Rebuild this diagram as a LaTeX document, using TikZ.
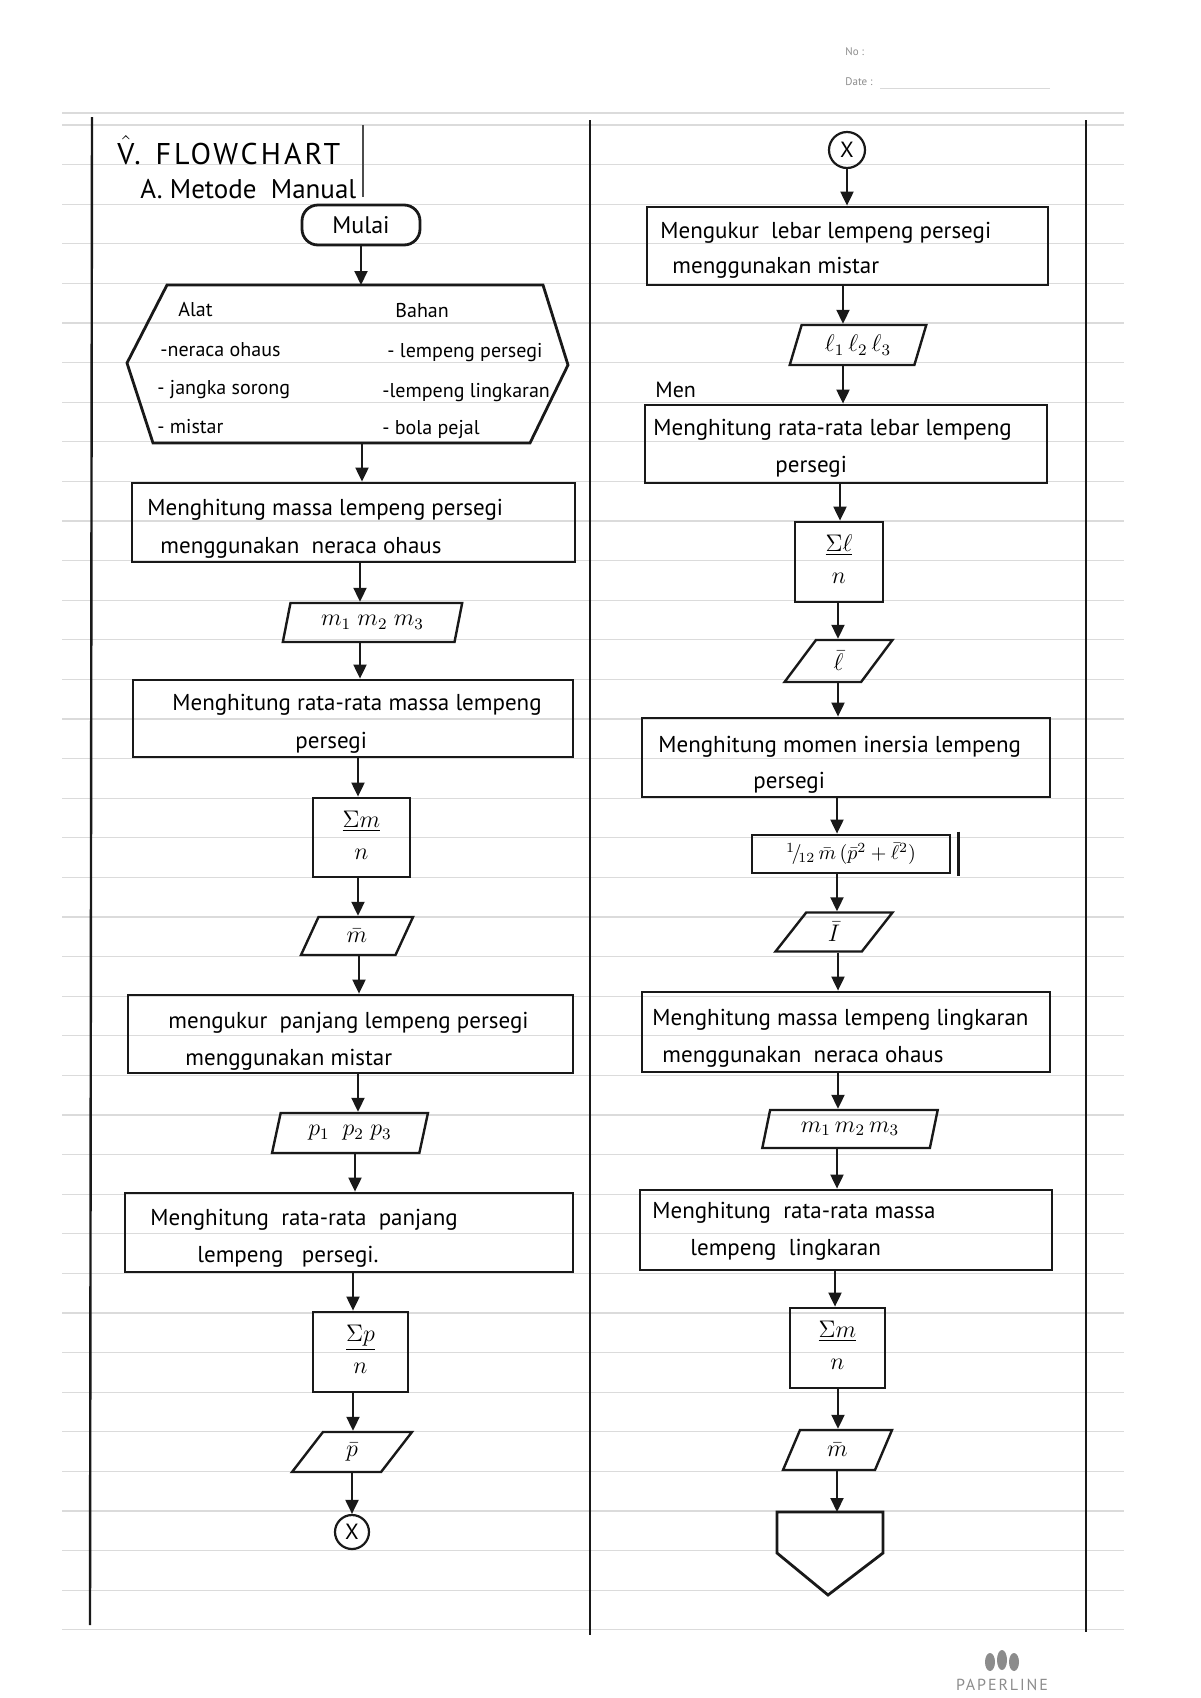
\documentclass[tikz,border=0pt]{standalone}
\usepackage{amsmath}
\usepackage{fontspec}
\setmainfont{PT Sans}
\usetikzlibrary{arrows.meta,shapes.geometric}
\newcommand\flowarr[3]{\coordinate (tmpx) at (#3,0);\draw[arr] (#1.south -| tmpx) -- (#2.north -| tmpx);}
\newcommand\fracbox[2]{\begin{tabular}{@{}c@{}}\underline{$#1$}\\[2pt] $#2$\end{tabular}}
\begin{document}
\begin{tikzpicture}[x=0.5pt,y=-0.5pt,
  ink/.style={draw=black!90, line width=1.4pt},
  rule/.style={draw=black!14, line width=0.6pt},
  border/.style={draw=black!90, line width=1.2pt},
  term/.style={ink, rounded corners=8pt, minimum width=59pt, minimum height=20pt, inner sep=0pt, font=\fontsize{12}{14}\selectfont},
  box/.style={ink, inner sep=0pt},
  frac/.style={ink, inner sep=0pt, font=\large},
  io/.style={ink, line width=1.2pt, trapezium, trapezium left angle=71, trapezium right angle=109, trapezium stretches=true, inner sep=0pt, font=\large},
  conn/.style={ink, line width=1.1pt, circle, inner sep=0pt, font=\fontsize{11}{12}\selectfont},
  arr/.style={draw=black!90, line width=1pt, -{Triangle[length=7pt,width=6.5pt]}},
  txt/.style={anchor=west, inner sep=0pt, font=\fontsize{11.5}{14}\selectfont},
  htxt/.style={anchor=west, inner sep=0pt, font=\fontsize{10}{12}\selectfont},
  faint/.style={inner sep=0pt, text=black!45}
]
\useasboundingbox (0,0) rectangle (1200,1698);
\fill[white] (0,0) rectangle (1200,1698);

% ruled paper
\draw[rule] (62,113) -- (1124,113);
\foreach \k in {0,...,38} \draw[rule] (62,{125+39.6*\k}) -- (1124,{125+39.6*\k});
\draw[border] (92,117) -- (90,1625);
\draw[border] (590,120) -- (590,1635);
\draw[border] (1086,120) -- (1086,1632);
\draw[draw=black!70, line width=0.8pt] (363,125) -- (363,197);

% header and footer of the paper
\node[faint, anchor=west, font=\fontsize{5.5}{6}\selectfont] (no) at (845,52) {No :};
\node[faint, anchor=west, font=\fontsize{5.5}{6}\selectfont] (date) at (845,82) {Date :};
\draw[draw=black!15, line width=0.5pt] (880,88) -- (1050,88);
\fill[black!45] (990,1662) ellipse (5 and 9);
\fill[black!45] (1002,1660) ellipse (5 and 10);
\fill[black!45] (1014,1662) ellipse (5 and 9);
\node[faint, font=\fontsize{8}{9}\selectfont\addfontfeatures{LetterSpace=12}] (paperline) at (1002,1685) {PAPERLINE};

% title
\node[anchor=west, inner sep=0pt, font=\fontsize{15}{17}\selectfont\addfontfeatures{LetterSpace=10}] (title) at (117,150) {$\hat{\text{V}}$. FLOWCHART};
\node[anchor=west, inner sep=0pt, font=\fontsize{13.5}{16}\selectfont] (sub) at (140,189) {A. Metode\ \ Manual};

% ===== left column =====
\node[term] (mulai) at (361,225) {Mulai};

\draw[ink] (167,285) -- (543,285) -- (568,365) -- (530,443) -- (153,443) -- (127,363) -- cycle;
\coordinate (hexT) at (361,285);
\coordinate (hexB) at (362,443);
\node[htxt] (alat) at (178,310) {Alat};
\node[htxt] (bahan) at (395,310) {Bahan};
\node[htxt] (a1) at (160,350) {-neraca ohaus};
\node[htxt] (a2) at (157,390) {- jangka sorong};
\node[htxt] (a3) at (157,427) {- mistar};
\node[htxt] (h1) at (387,353) {- lempeng persegi};
\node[htxt] (h2) at (382,393) {-lempeng lingkaran};
\node[htxt] (h3) at (382,430) {- bola pejal};

\node[box, minimum width=221.5pt, minimum height=39.5pt] (b1) at (353.5,522.5) {};
\node[txt] (t1a) at (147,510) {Menghitung\ massa lempeng\ persegi};
\node[txt] (t1b) at (160,548) {menggunakan\ \ neraca\ ohaus};

\node[io, minimum width=90pt, minimum height=19.5pt] (p1) at (372.5,622.5) {$m_1\ m_2\ m_3$};

\node[box, minimum width=220pt, minimum height=38.5pt] (b2) at (353,718.5) {};
\node[txt] (t2a) at (172,705) {Menghitung\ rata-rata\ massa lempeng};
\node[txt] (t2b) at (295,743) {persegi};

\node[frac, minimum width=48.5pt, minimum height=39.5pt] (f1) at (361.5,837.5) {\fracbox{\Sigma m}{n}};

\node[io, minimum width=56pt, minimum height=19pt] (p2) at (357,936) {$\bar{m}$};

\node[box, minimum width=222.5pt, minimum height=39pt] (b3) at (350.5,1034) {};
\node[txt] (t3a) at (168,1023) {mengukur\ \ panjang lempeng persegi};
\node[txt] (t3b) at (185,1060) {menggunakan mistar};

\node[io, minimum width=78pt, minimum height=20pt] (p3) at (350,1133) {$p_1\ \ p_2\ p_3$};

\node[box, minimum width=224pt, minimum height=39.5pt] (b4) at (349,1232.5) {};
\node[txt] (t4a) at (150,1220) {Menghitung\ \ rata-rata\ \ panjang};
\node[txt] (t4b) at (197,1257) {lempeng\ \ \ persegi.};

\node[frac, minimum width=47.5pt, minimum height=40pt] (f2) at (360.5,1352) {\fracbox{\Sigma p}{n}};

\node[io, minimum width=60pt, minimum height=20pt] (p4) at (352,1452) {$\bar{p}$};

\node[conn, minimum size=17pt] (cx1) at (352,1532) {X};

\draw[arr] (mulai.south) -- (mulai.south |- hexT);
\draw[arr] (hexB) -- (hexB |- b1.north);
\flowarr{b1}{p1}{360}
\flowarr{p1}{b2}{360}
\flowarr{b2}{f1}{358}
\flowarr{f1}{p2}{358}
\flowarr{p2}{b3}{359}
\flowarr{b3}{p3}{358}
\flowarr{p3}{b4}{355}
\flowarr{b4}{f2}{353}
\flowarr{f2}{p4}{353}
\flowarr{p4}{cx1}{352}

% ===== right column =====
\node[conn, minimum size=18pt] (cx2) at (847,150) {X};

\node[box, minimum width=200.5pt, minimum height=39pt] (b5) at (847.5,246) {};
\node[txt] (t5a) at (660,233) {Mengukur\ \ lebar lempeng\ persegi};
\node[txt] (t5b) at (672,268) {menggunakan mistar};

\node[io, minimum width=68.5pt, minimum height=20pt] (p5) at (858,345) {$\ell_1\,\ell_2\,\ell_3$};

\node[txt, font=\fontsize{11}{13}\selectfont] (men) at (655,390) {Men};

\node[box, minimum width=201pt, minimum height=39pt] (b6) at (846,444) {};
\node[txt] (t6a) at (653,430) {Menghitung\ rata-rata lebar lempeng};
\node[txt] (t6b) at (775,467) {persegi};

\node[frac, minimum width=44pt, minimum height=40pt] (f3) at (839,562) {\fracbox{\Sigma \ell}{n}};

\node[io, minimum width=54pt, minimum height=21pt] (p6) at (838.5,661) {$\bar{\ell}$};

\node[box, minimum width=204pt, minimum height=39.5pt] (b7) at (846,757.5) {};
\node[txt] (t7a) at (658,747) {Menghitung\ momen inersia lempeng};
\node[txt] (t7b) at (753,783) {persegi};

\node[box, minimum width=99pt, minimum height=19pt, font=\normalsize] (b8) at (851,854) {$^{1}\!/\!_{12}\,\bar{m}\,(\bar{p}^{2}+\bar{\ell}^{2})$};
\draw[ink] ([xshift=3.5pt,yshift=1pt]b8.north east) -- ([xshift=3.5pt,yshift=-1pt]b8.south east);

\node[io, minimum width=58.5pt, minimum height=19.5pt] (p7) at (834,932) {$\bar{I}$};

\node[box, minimum width=204pt, minimum height=40pt] (b9) at (846,1032) {};
\node[txt] (t9a) at (652,1020) {Menghitung\ massa lempeng lingkaran};
\node[txt] (t9b) at (662,1057) {menggunakan\ \ neraca\ ohaus};

\node[io, minimum width=88pt, minimum height=19pt] (p8) at (850,1129) {$m_1\,m_2\,m_3$};

\node[box, minimum width=206pt, minimum height=40pt] (b10) at (846,1230) {};
\node[txt] (t10a) at (652,1213) {Menghitung\ \ rata-rata massa};
\node[txt] (t10b) at (690,1250) {lempeng\ \ lingkaran};

\node[frac, minimum width=47.5pt, minimum height=40pt] (f4) at (837.5,1348) {\fracbox{\Sigma m}{n}};

\node[io, minimum width=54.5pt, minimum height=20pt] (p9) at (837.5,1450) {$\bar{m}$};

\draw[ink] (777,1512) -- (883,1512) -- (883,1553) -- (828,1595) -- (777,1553) -- cycle;
\coordinate (endT) at (837,1512);

\draw[arr] (cx2.south) -- (cx2.south |- b5.north);
\flowarr{b5}{p5}{843}
\flowarr{p5}{b6}{843}
\flowarr{b6}{f3}{840}
\flowarr{f3}{p6}{838}
\flowarr{p6}{b7}{838}
\flowarr{b7}{b8}{837}
\flowarr{b8}{p7}{837}
\flowarr{p7}{b9}{838}
\flowarr{b9}{p8}{838}
\flowarr{p8}{b10}{837}
\flowarr{b10}{f4}{835}
\flowarr{f4}{p9}{838}
\draw[arr] (p9.south -| endT) -- (endT);
\end{tikzpicture}
\end{document}
